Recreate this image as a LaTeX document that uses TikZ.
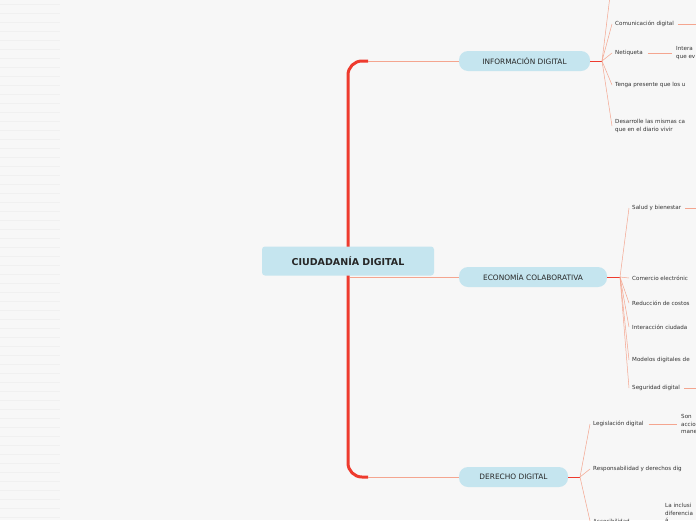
\documentclass[tikz,border=0pt]{standalone}
\usepackage{fontspec}
\setmainfont{DejaVu Sans}
\begin{document}
\begin{tikzpicture}[x=1pt,y=-1pt,
  topic/.style={fill=topicblue,rounded corners=9pt,minimum height=20pt,inner xsep=4pt,font=\fontsize{7.4}{8}\selectfont,text=black!85},
  leaf/.style={anchor=west,inner sep=0pt,font=\fontsize{5.6}{7.8}\selectfont,text=black!80,align=left},
  thin/.style={draw=salmon,line width=0.5pt},
  ]
\definecolor{topicblue}{HTML}{C5E5EF}
\definecolor{salmon}{HTML}{F4A58F}
\definecolor{spinered}{HTML}{EE3B2E}
\definecolor{bg}{HTML}{F7F7F7}
\useasboundingbox (0,0) rectangle (696,520);
\clip (0,0) rectangle (696,520);
\fill[bg] (0,0) rectangle (696,520);
\foreach \y in {4,13,...,520} \draw[black!6,line width=0.4pt] (0,\y) -- (60,\y);
% spine
\draw[spinered,line width=3pt,rounded corners=14pt] (368,61) -- (348,61) -- (348,477) -- (368,477);
\draw[thin] (368,61) -- (459,61);
\draw[thin] (368,477) -- (459,477);
\draw[thin] (350,277) -- (459,277);
\node[fill=topicblue,rounded corners=3pt,minimum width=172pt,minimum height=29pt,font=\bfseries\fontsize{9.5}{10}\selectfont,text=black!85] (c) at (348,261) {CIUDADANÍA DIGITAL};
\node[topic,minimum width=131pt] (info) at (524.5,61) {INFORMACIÓN DIGITAL};
\node[topic,minimum width=148pt] (eco) at (533,277) {ECONOMÍA COLABORATIVA};
\node[topic,minimum width=109pt] (der) at (513.5,477) {DERECHO DIGITAL};
% info children
\coordinate (h1) at (602,61);
\draw[spinered,line width=0.8pt] (info.east) -- (h1);
\node[leaf] (i1) at (615,24) {Comunicación digital};
\node[leaf] (i2) at (615,53) {Netiqueta};
\node[leaf] (i3) at (615,85) {Tenga presente que los u};
\node[leaf] (i4) at (615,126) {Desarrolle las mismas ca\\que en el diario vivir};
\coordinate (i0) at (610,-4);
\foreach \n in {i1,i2,i3} \draw[thin] (h1) -- ([xshift=-3pt]\n.west);
\draw[thin] (h1) -- ([xshift=-3pt]i4.west);
\draw[thin] (h1) -- (i0);
\node[leaf] (i2b) at (676,53) {Intera\\que ev};
\draw[thin] ([xshift=5pt]i2.east) -- ([xshift=-4pt]i2b.west);
\coordinate (i1e) at (696,24);
\draw[thin] ([xshift=4pt]i1.east) -- (i1e);
% eco children
\coordinate (h2) at (620,277);
\draw[spinered,line width=0.8pt] (eco.east) -- (h2);
\node[leaf] (e1) at (632,208) {Salud y bienestar};
\node[leaf] (e2) at (632,278) {Comercio electrónic};
\node[leaf] (e3) at (632,303) {Reducción de costos};
\node[leaf] (e4) at (632,327) {Interacción ciudada};
\node[leaf] (e5) at (632,360) {Modelos digitales de};
\node[leaf] (e6) at (632,388) {Seguridad digital};
\foreach \n in {e1,e2,e3,e4,e5,e6} \draw[thin] (h2) -- ([xshift=-3pt]\n.west);
\coordinate (e1e) at (696,208);
\coordinate (e6e) at (696,388);
\draw[thin] ([xshift=4pt]e1.east) -- (e1e);
\draw[thin] ([xshift=4pt]e6.east) -- (e6e);
% derecho children
\coordinate (h3) at (580,477);
\draw[spinered,line width=0.8pt] (der.east) -- (h3);
\node[leaf] (d1) at (593,424) {Legislación digital};
\node[leaf] (d2) at (593,469) {Responsabilidad y derechos dig};
\node[leaf] (d3) at (593,521) {Accesibilidad};
\foreach \n in {d1,d2,d3} \draw[thin] (h3) -- ([xshift=-3pt]\n.west);
\node[leaf] (d1b) at (681,424) {Son\\accio\\mane};
\draw[thin] ([xshift=5pt]d1.east) -- ([xshift=-4pt]d1b.west);
\node[leaf] (d3b) at (665,513) {La inclusi\\diferencia\\á};
\end{tikzpicture}
\end{document}
